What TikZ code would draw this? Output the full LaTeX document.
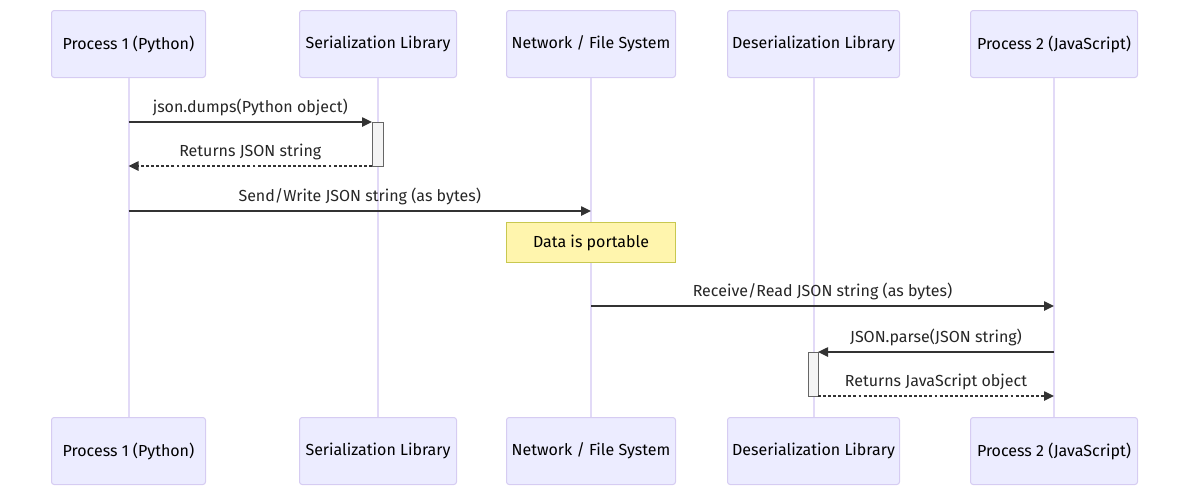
\documentclass[tikz,border=0pt]{standalone}
\usepackage{fontspec}
\setmainfont{Fira Sans}
\usepackage{xcolor}
\usetikzlibrary{arrows.meta}
\definecolor{actorfill}{HTML}{ECECFF}
\definecolor{actorline}{HTML}{D6CCF2}
\definecolor{lifeline}{HTML}{E2DAF7}
\definecolor{msgline}{HTML}{333333}
\definecolor{notefill}{HTML}{FFF5AD}
\definecolor{noteline}{HTML}{C8C850}
\definecolor{actfill}{HTML}{F4F4F4}
\definecolor{actline}{HTML}{666666}
\tikzset{every node/.append style={font=\fontsize{12}{14}\selectfont}}
\tikzset{
  actor/.style={draw=actorline, fill=actorfill, rounded corners=2pt, line width=0.75pt, anchor=north west, inner sep=0pt},
  msg/.style={draw=msgline, line width=1.1pt, -{Triangle[length=7.5pt, width=7pt]}},
  reply/.style={msg, dash pattern=on 2.2pt off 1.6pt},
  msglabel/.style={text=black!85, inner sep=0pt},
  activ/.style={draw=actline, fill=actfill, line width=0.6pt}
}

\begin{document}
\begin{tikzpicture}[x=0.75pt, y=-0.75pt]
    \useasboundingbox (0,0) rectangle (1200,501);
    % actors, top and bottom
    \foreach \nm/\xa/\xb/\txt in {pa/51/205/{Process 1 (Python)}, sl/299/456/{Serialization Library},
        nf/506/675/{Network / File System}, dl/727/899/{Deserialization Library}, pb/970/1137/{Process 2 (JavaScript)}} {
        \node[actor, minimum width=(\xb-\xa)*0.75pt, minimum height=50.25pt] (top-\nm) at (\xa,10) {\txt};
        \node[actor, minimum width=(\xb-\xa)*0.75pt, minimum height=50.25pt] (bot-\nm) at (\xa,417) {\txt};
        \draw[lifeline, line width=1.5pt] (top-\nm.south) -- (bot-\nm.north);
    }
    % activations
    \draw[activ] (372,122) rectangle (383,166);
    \draw[activ] (808,352) rectangle (818,396);
    % message end points
    \coordinate (m1a) at (top-pa.south |- 0,122);
    \coordinate (m1b) at (372,122);
    \coordinate (m2a) at (372,166);
    \coordinate (m2b) at (top-pa.south |- 0,166);
    \coordinate (m3a) at (top-pa.south |- 0,211);
    \coordinate (m3b) at (top-nf.south |- 0,211);
    \coordinate (m5a) at (top-nf.south |- 0,306);
    \coordinate (m5b) at (top-pb.south |- 0,306);
    \coordinate (m6a) at (top-pb.south |- 0,352);
    \coordinate (m6b) at (818,352);
    \coordinate (m7a) at (818,396);
    \coordinate (m7b) at (top-pb.south |- 0,396);
    % messages
    \draw[msg] (m1a) -- (m1b) node[msglabel, midway, above=4pt] {json.dumps(Python object)};
    \draw[reply] (m2a) -- (m2b) node[msglabel, midway, above=4pt] {Returns JSON string};
    \draw[msg] (m3a) -- (m3b) node[msglabel, midway, above=4pt] {Send/Write JSON string (as bytes)};
    \draw[msg] (m5a) -- (m5b) node[msglabel, midway, above=4pt] {Receive/Read JSON string (as bytes)};
    \draw[msg] (m6a) -- (m6b) node[msglabel, midway, above=4pt] {JSON.parse(JSON string)};
    \draw[reply] (m7a) -- (m7b) node[msglabel, midway, above=4pt] {Returns JavaScript object};
    % note
    \node[draw=noteline, fill=notefill, line width=0.75pt, anchor=north west, inner sep=0pt,
        minimum width=126.75pt, minimum height=30pt] (note) at (506,222) {Data is portable};
\end{tikzpicture}
\end{document}
